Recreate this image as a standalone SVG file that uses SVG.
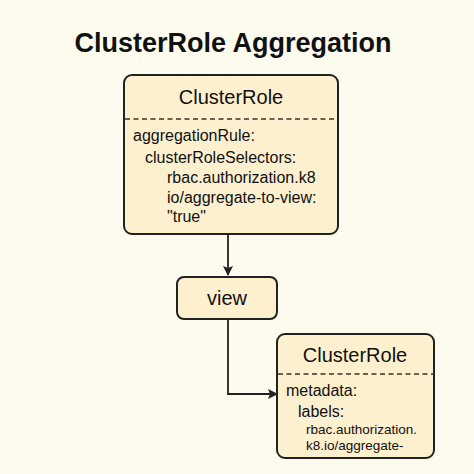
<svg xmlns="http://www.w3.org/2000/svg" width="474" height="474" viewBox="0 0 474 474">
<defs>
<style>
.box{fill:#fdf0cf;stroke:#222;stroke-width:2}
.dash{stroke:#333;stroke-width:1.3;stroke-dasharray:5 3.5}
.t{font-family:"Liberation Sans",Arial,sans-serif;fill:#111}
.h{font-size:20px;text-anchor:middle}
.b{font-size:16px}
.s{font-size:13.5px}
.edge{fill:none;stroke:#222;stroke-width:1.8}
</style>
<marker id="arr" viewBox="0 0 10 10" refX="9" refY="5" markerWidth="10" markerHeight="10" markerUnits="userSpaceOnUse" orient="auto"><path d="M0,0 L10,5 L0,10 L2,5 z" fill="#222"/></marker>
</defs>
<rect width="474" height="474" fill="#fdfbee"/>
<text class="t" x="233" y="52" font-size="27" font-weight="bold" text-anchor="middle">ClusterRole Aggregation</text>
<g id="connectors">
<path class="edge" d="M228,234 L228,275" marker-end="url(#arr)"/>
<path class="edge" d="M228,319 L228,394 L277,394" marker-end="url(#arr)"/>
</g>
<g id="clusterrole-top">
<rect class="box" x="124" y="75" width="214" height="159" rx="8"/>
<line class="dash" x1="125" y1="119" x2="337" y2="119"/>
<text class="t h" x="231" y="104">ClusterRole</text>
<text class="t b" x="133" y="141">aggregationRule:</text>
<text class="t b" x="145" y="163">clusterRoleSelectors:</text>
<text class="t b" x="167" y="183">rbac.authorization.k8</text>
<text class="t b" x="167" y="203">io/aggregate-to-view:</text>
<text class="t b" x="167" y="222">"true"</text>
</g>
<g id="view">
<rect class="box" x="177" y="277" width="100" height="42" rx="7"/>
<text class="t h" x="227" y="305">view</text>
</g>
<g id="clusterrole-bottom">
<rect class="box" x="277" y="334" width="157" height="124" rx="8"/>
<line class="dash" x1="278" y1="374" x2="433" y2="374"/>
<text class="t h" x="355" y="362">ClusterRole</text>
<text class="t b" x="286" y="396">metadata:</text>
<text class="t b" x="298" y="417">labels:</text>
<text class="t s" x="306" y="434">rbac.authorization.</text>
<text class="t s" x="306" y="450">k8.io/aggregate-</text>
</g>
</svg>
